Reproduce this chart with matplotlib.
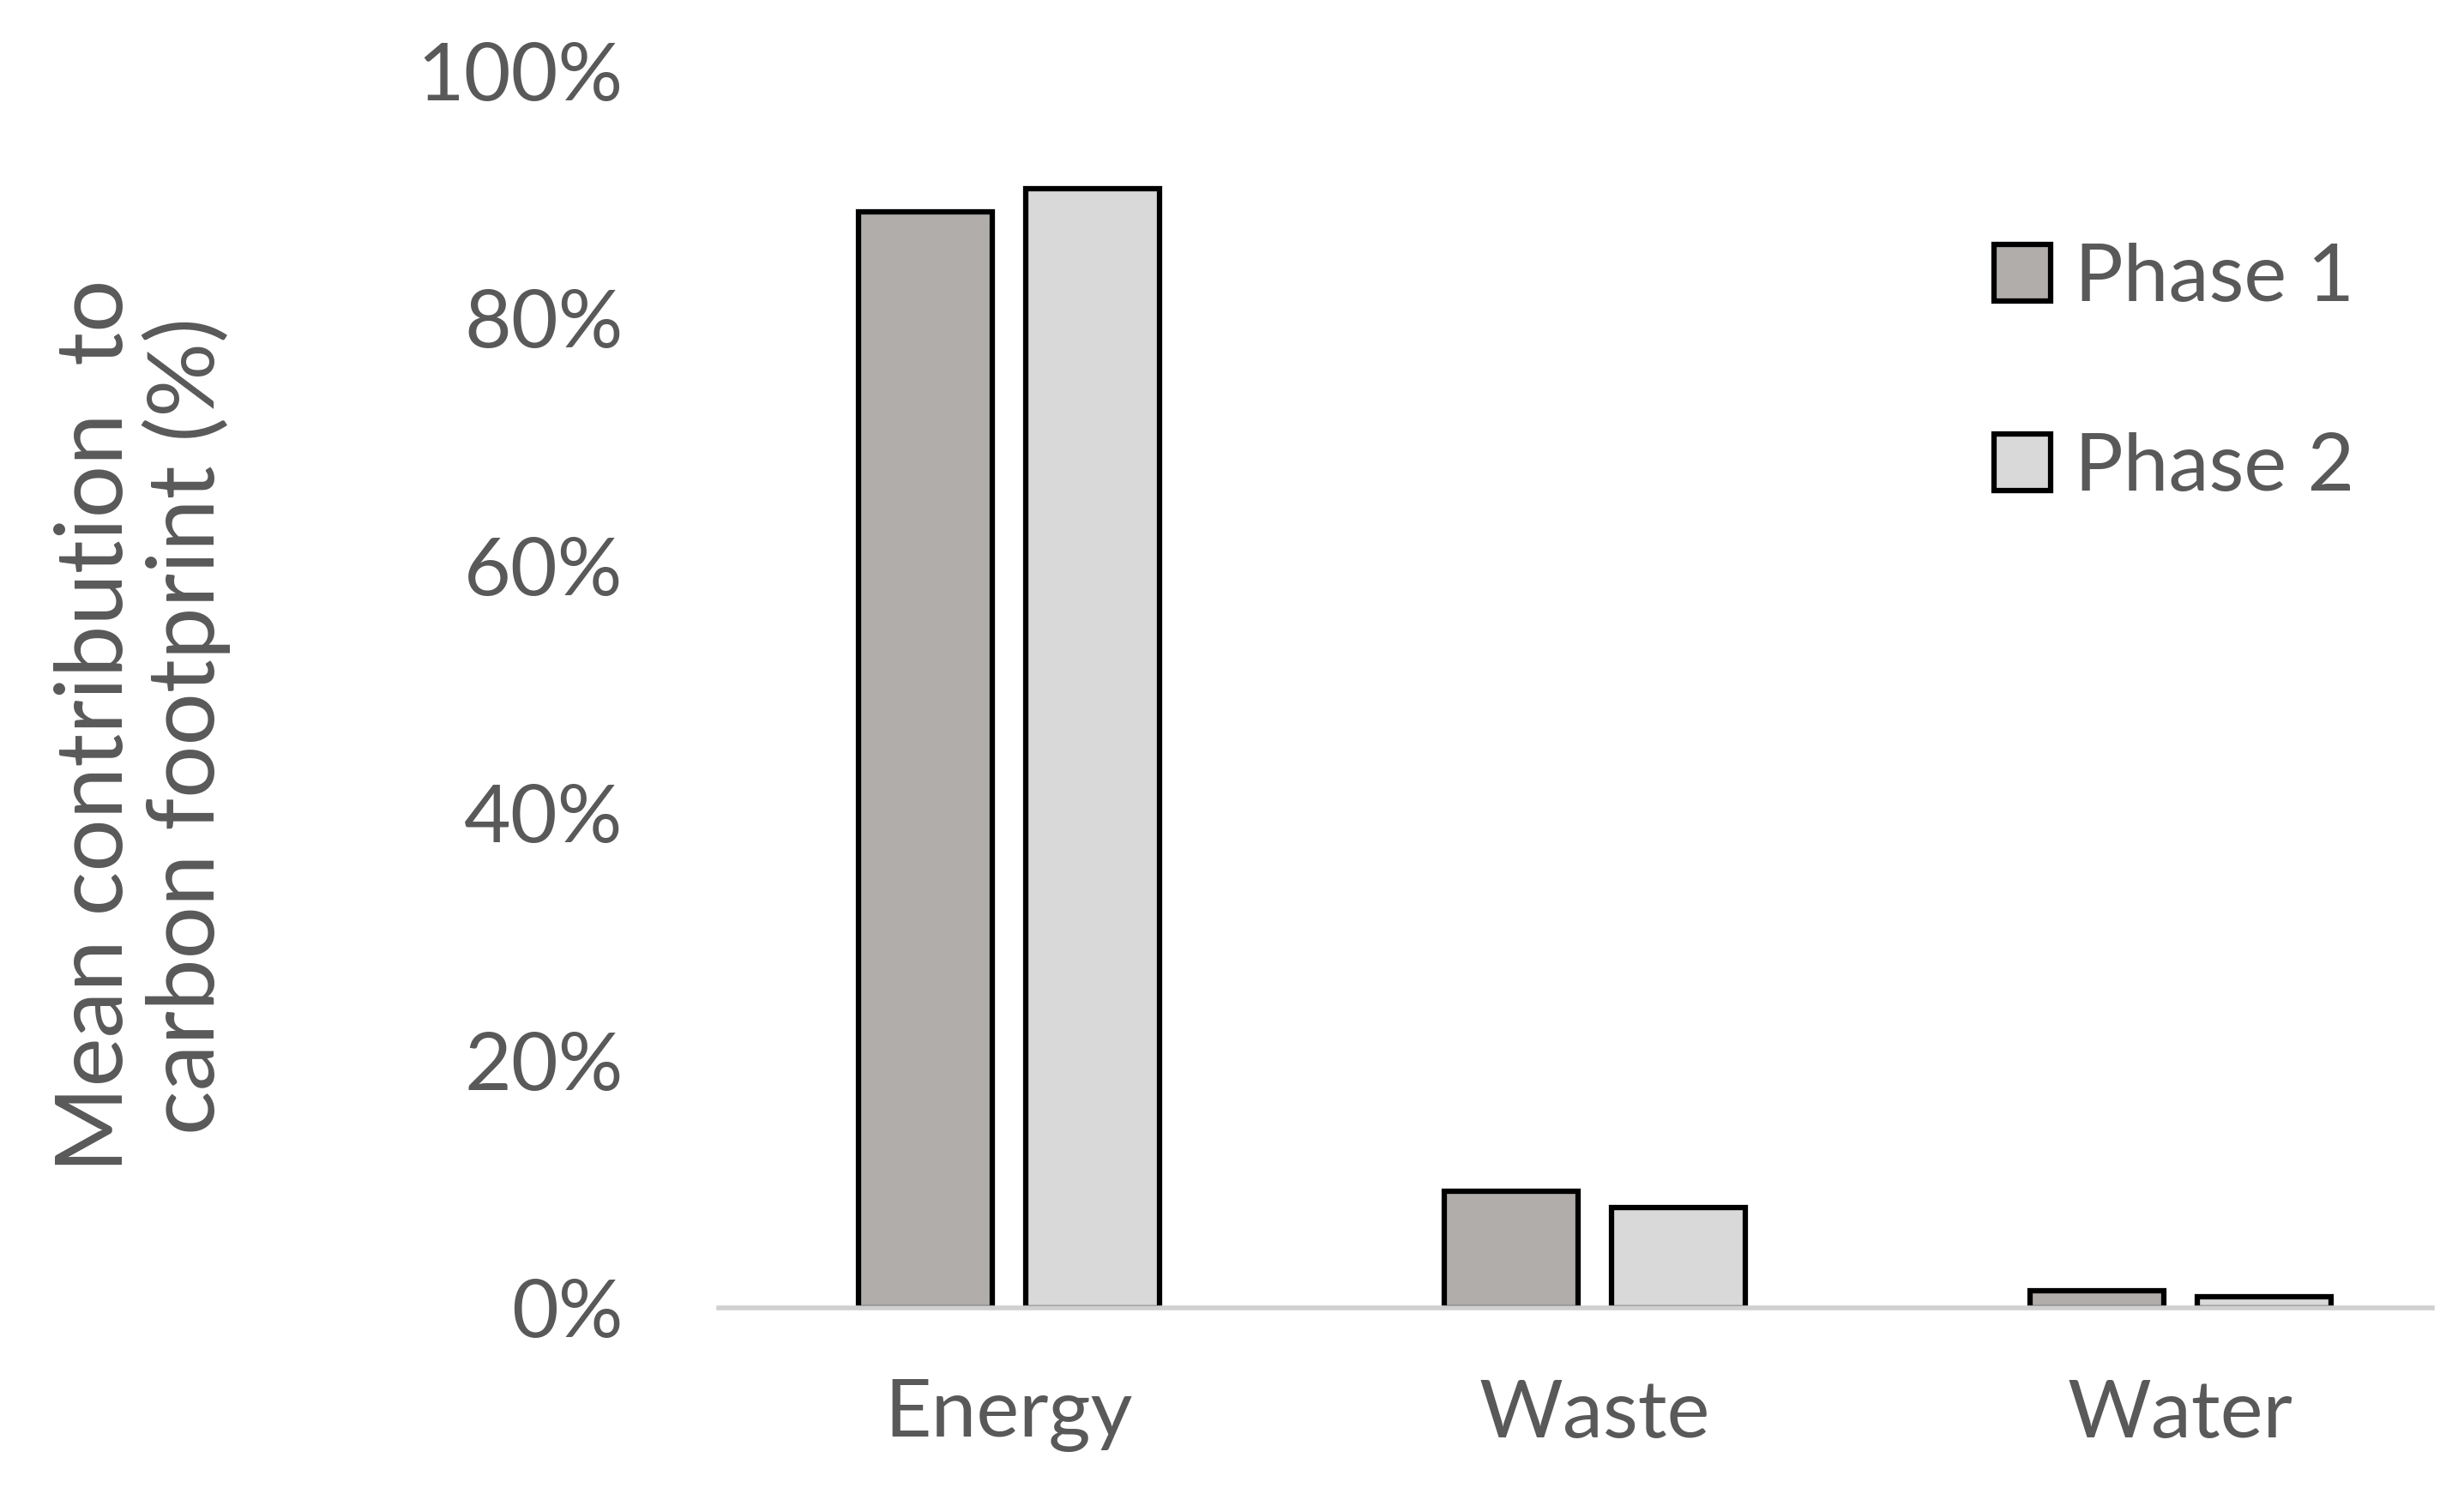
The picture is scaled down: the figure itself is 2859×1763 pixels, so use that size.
import matplotlib.pyplot as plt
import numpy as np
from matplotlib.ticker import PercentFormatter

plt.rcParams['font.family'] = ['Lato', 'DejaVu Sans']

categories = ["Energy", "Waste", "Water"]
phase1 = [88.6, 9.4, 1.4]
phase2 = [90.5, 8.1, 0.9]
yticks = [0, 20, 40, 60, 80, 100]

txt = "#595959"
fig = plt.figure(figsize=(28.59, 17.63), dpi=100)
ax = fig.add_axes([0.293, 0.135, 0.699, 0.818])

x = np.arange(len(categories))
w = 0.228
off = 0.143
ax.bar(x - off, phase1, w, color="#b0adab", edgecolor="black", linewidth=4.5, label="Phase 1")
ax.bar(x + off, phase2, w, color="#d9d9d9", edgecolor="black", linewidth=4.5, label="Phase 2")

ax.set_xlim(-0.496, 2.43)
ax.set_ylim(0, 100)
ax.set_yticks(yticks)
ax.yaxis.set_major_formatter(PercentFormatter(decimals=0))
ax.set_xticks(x)
ax.set_xticklabels(categories)
ax.tick_params(axis="both", length=0, labelsize=68, colors=txt)
ax.tick_params(axis="x", pad=60)
ax.tick_params(axis="y", pad=80)
for s in ["top", "right", "left"]:
    ax.spines[s].set_visible(False)
ax.spines["bottom"].set_color("#d0d0d0")
ax.spines["bottom"].set_linewidth(4)

fig.text(0.058, 0.52, "Mean contribution  to\ncarbon footprint (%)", rotation=90,
         ha="center", va="center", fontsize=78, color=txt, linespacing=1.05)

leg = ax.legend(loc="upper left", bbox_to_anchor=(1222/1560, 1-108/962), bbox_transform=fig.transFigure,
                frameon=False, fontsize=68, labelspacing=1.45, handlelength=0.7, handleheight=0.7,
                handletextpad=0.3)
for t in leg.get_texts():
    t.set_color(txt)

fig.savefig("out.png", dpi=100)
